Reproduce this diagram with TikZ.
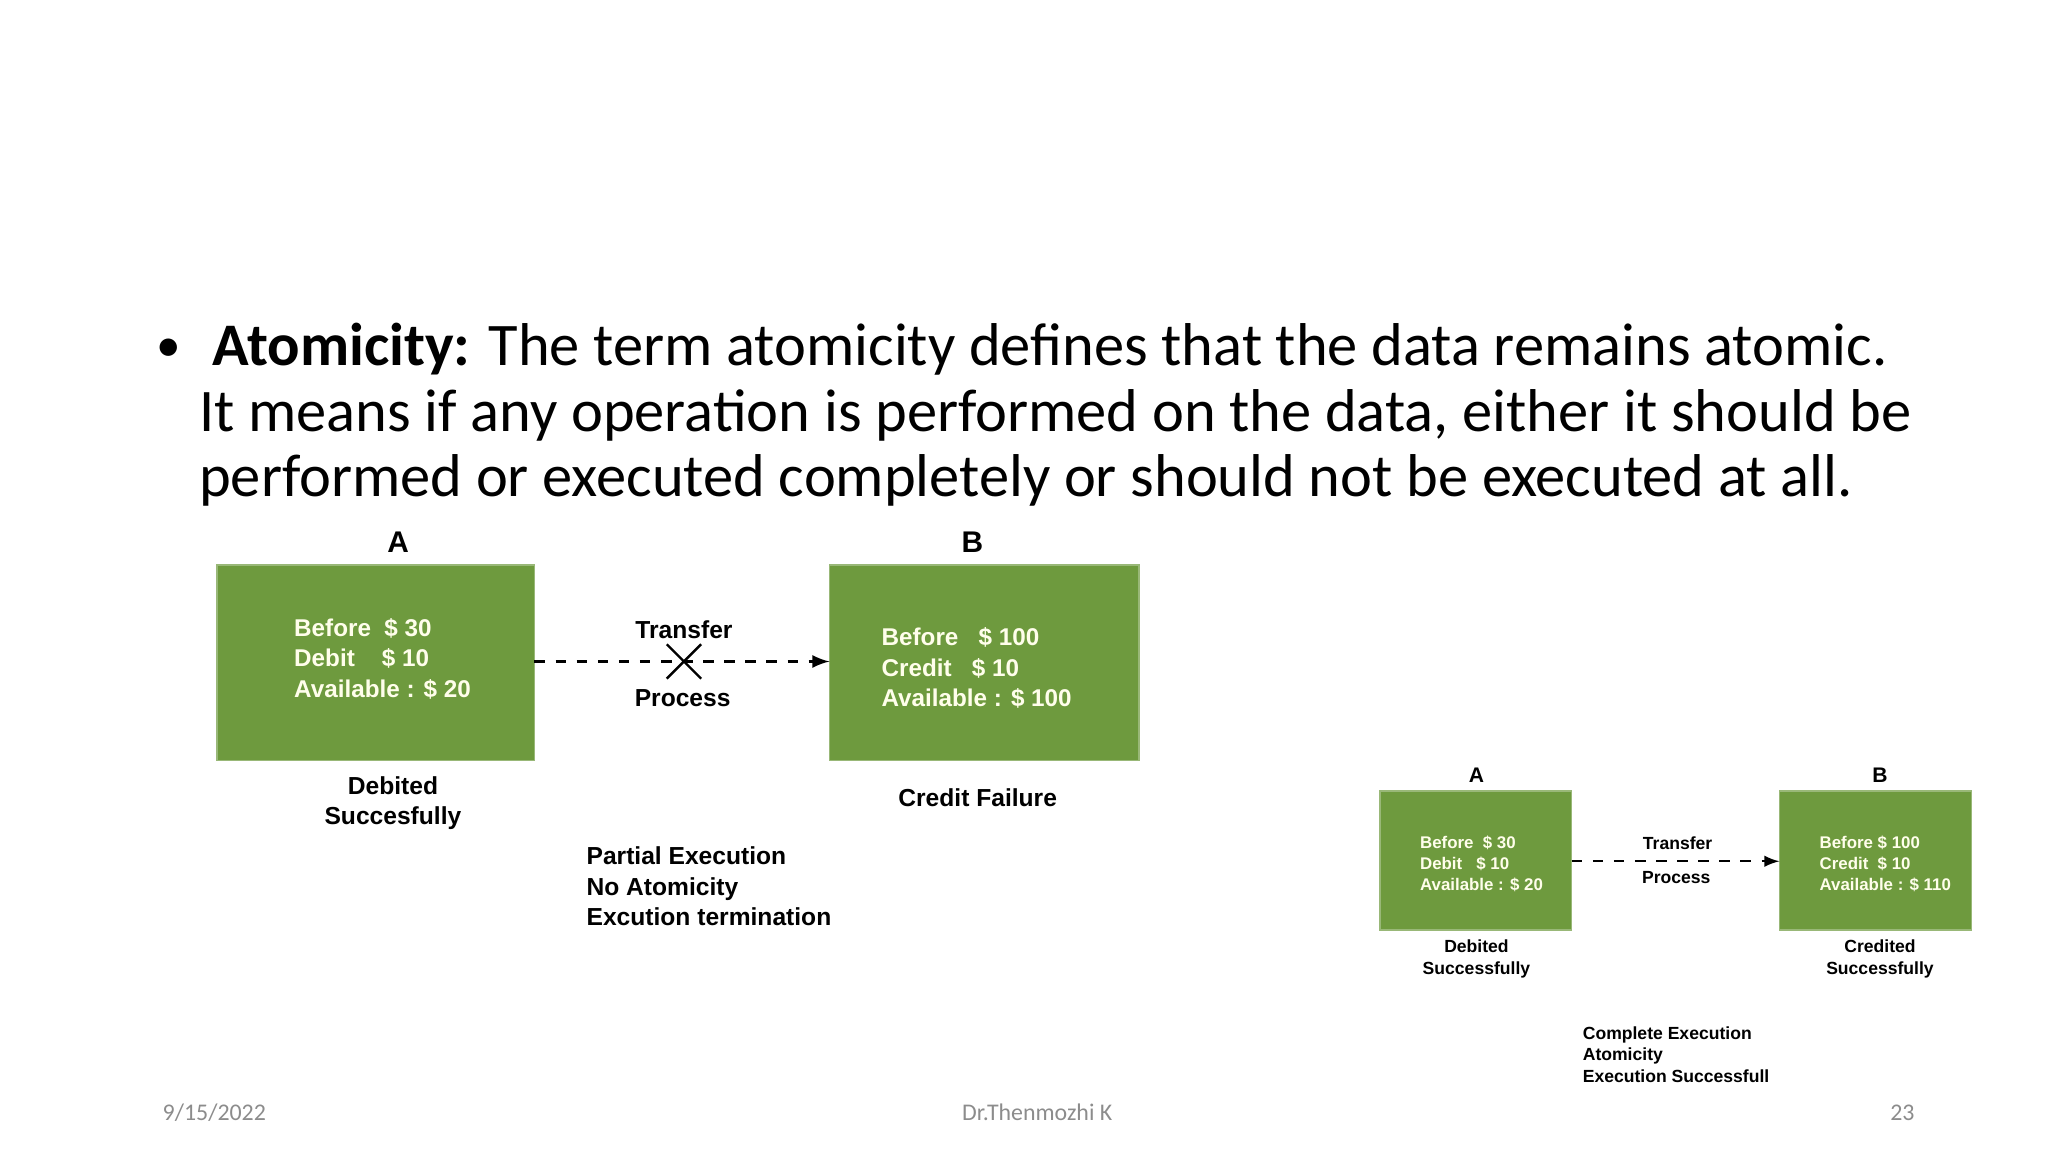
\documentclass[tikz,border=0pt]{standalone}
\usepackage{fontspec}
\setmainfont{Carlito}
\newfontfamily\arial{Liberation Sans}
\definecolor{grn}{HTML}{6E9A3E}
\definecolor{foot}{HTML}{8C8C8C}
\begin{document}
\begin{tikzpicture}[x=0.01323cm,y=-0.01323cm,
  box/.style={draw=grn!70!white,fill=grn,line width=0.4pt},
  bt/.style={font=\arial\bfseries\fontsize{6.9}{8.7}\selectfont,text=white!92!yellow,align=left,anchor=west},
  lt/.style={font=\arial\bfseries\fontsize{7}{8.6}\selectfont,align=center},
  st/.style={font=\arial\bfseries\fontsize{4.8}{6.1}\selectfont,text=white!92!yellow,align=left,anchor=west},
  slt/.style={font=\arial\bfseries\fontsize{5}{6.1}\selectfont,align=center},
  mt/.style={font=\fontsize{17.2}{20}\selectfont,anchor=base west,inner sep=0},
  ft/.style={font=\fontsize{6.8}{8}\selectfont,text=foot}]
\useasboundingbox (0,0) rectangle (1548,871);
% main text
\node[mt,font=\fontsize{14}{16}\selectfont] (bul) at (118,273) {\textbullet};
\node[mt] (l1) at (160,276) {\textbf{Atomicity:} The term atomicity defines that the data remains atomic.};
\node[mt] (l2) at (150,326) {It means if any operation is performed on the data, either it should be};
\node[mt] (l3) at (150,375) {performed or executed completely or should not be executed at all.};
% left diagram
\node[lt,font=\arial\bfseries\fontsize{8.5}{10}\selectfont] (la) at (301,410) {A};
\node[lt,font=\arial\bfseries\fontsize{8.5}{10}\selectfont] (lb) at (735,410) {B};
\draw[box] (164,427) rectangle (404,575);
\coordinate (aE) at (404,500);
\draw[box] (627,427) rectangle (861,575);
\coordinate (bW) at (627,500);
\node[bt] (ta) at (213,498) {Before\ \ \$ 30\\Debit\ \ \ \ \$ 10\\Available : \$ 20};
\node[bt] (tb) at (657,505) {Before\ \ \ \$ 100\\Credit\ \ \ \$ 10\\Available : \$ 100};
\draw[dashed,line width=0.7pt,-latex] (aE) -- (bW);
\draw[line width=0.7pt] (504,487) -- (530,513) (504,513) -- (530,487);
\node[lt] (tr) at (517,476) {Transfer};
\node[lt] (pr) at (516,528) {Process};
\node[lt] (ds) at (297,607) {Debited\\Succesfully};
\node[lt] (cf) at (739,603) {Credit Failure};
\node[lt,align=left,anchor=west] (pe) at (434,670) {Partial Execution\\No Atomicity\\Excution termination};
% right diagram
\node[slt,font=\arial\bfseries\fontsize{6}{7}\selectfont] (ra) at (1116,586) {A};
\node[slt,font=\arial\bfseries\fontsize{6}{7}\selectfont] (rb) at (1421,586) {B};
\draw[box] (1043,598) rectangle (1188,703);
\draw[box] (1345,598) rectangle (1490,703);
\coordinate (raE) at (1188,651);
\coordinate (rbW) at (1345,651);
\node[st] (sa) at (1064,653) {Before\ \ \$ 30\\Debit\ \ \ \$ 10\\Available : \$ 20};
\node[st] (sb) at (1366,653) {Before \$ 100\\Credit\ \ \$ 10\\Available : \$ 110};
\draw[dashed,line width=0.5pt,-latex] (raE) -- (rbW);
\node[slt] (rtr) at (1268,637) {Transfer};
\node[slt] (rpr) at (1267,663) {Process};
\node[slt] (rds) at (1116,725) {Debited\\Successfully};
\node[slt] (rcs) at (1421,725) {Credited\\Successfully};
\node[slt,align=left,anchor=west] (ce) at (1187,797) {Complete Execution\\Atomicity\\Execution Successfull};
% footer
\node[ft] (date) at (162,841) {9/15/2022};
\node[ft] (auth) at (784,841) {Dr.Thenmozhi K};
\node[ft] (pg) at (1438,841) {23};
\end{tikzpicture}
\end{document}
